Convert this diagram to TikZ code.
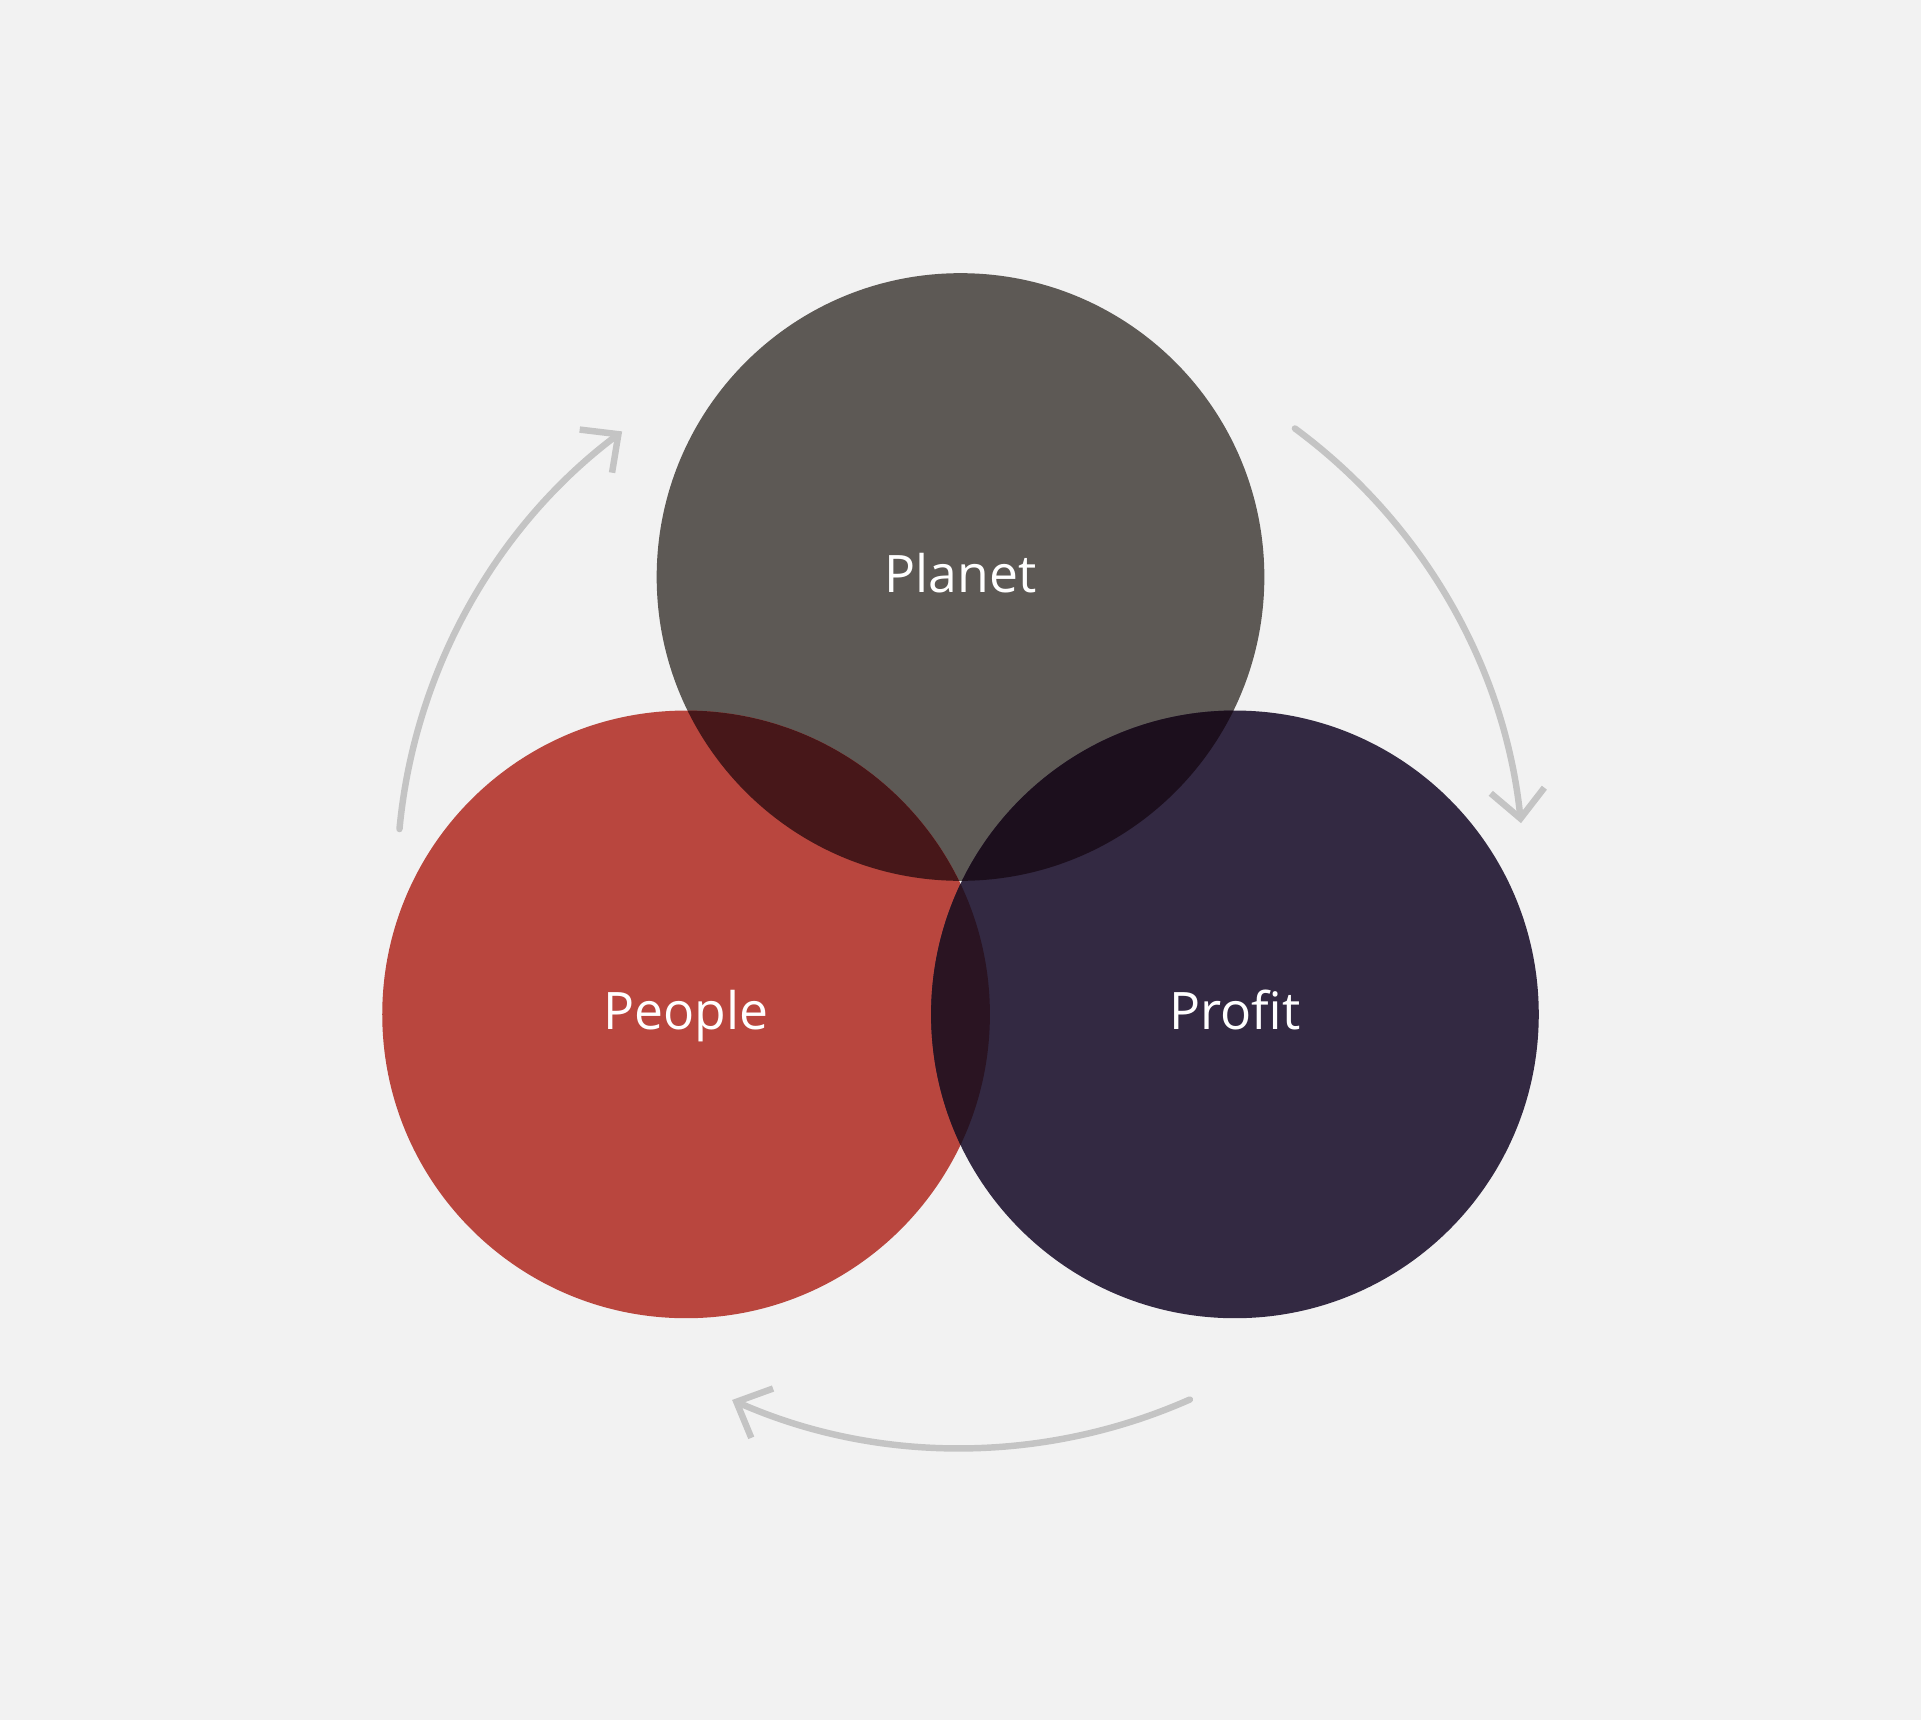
\documentclass[tikz,border=0pt]{standalone}
\usepackage{fontspec}
\setmainfont{Open Sans}
\usetikzlibrary{arrows.meta}

\definecolor{bgcol}{HTML}{F2F2F2}
\definecolor{planetcol}{HTML}{5D5955}
\definecolor{peoplecol}{HTML}{B9463E}
\definecolor{profitcol}{HTML}{332942}
\definecolor{planetpeople}{HTML}{471719}
\definecolor{planetprofit}{HTML}{1C0F1D}
\definecolor{peopleprofit}{HTML}{2A1422}
\definecolor{arrowcol}{HTML}{C4C4C4}

\begin{document}
\begin{tikzpicture}[venn/.style={circle, minimum size = 4.96cm, inner sep = 0pt, text=white, text depth = 0.07cm, font=\fontsize{12}{14}\selectfont},
    cyclearrow/.style={draw=arrowcol, line width = 1.5pt, line cap = round, -{Straight Barb[length=0.23cm, width=0.44cm, line cap=butt]}}]
    \fill[bgcol] (0, 0) rectangle (15.68, 14.04);

    \node at (7.84, 9.33) [venn, fill=planetcol] (planet) {Planet};
    \node at (5.60, 5.76) [venn, fill=peoplecol] (people) {People};
    \node at (10.08, 5.76) [venn, fill=profitcol] (profit) {Profit};
    \coordinate (hub) at (7.84, 6.84);

    %Overlaps of the circles
    \begin{scope}
        \clip (planet.center) circle (2.48);
        \fill[planetpeople] (people.center) circle (2.48);
        \fill[planetprofit] (profit.center) circle (2.48);
    \end{scope}
    \begin{scope}
        \clip (people.center) circle (2.48);
        \fill[peopleprofit] (profit.center) circle (2.48);
    \end{scope}

    %Cycle arrows round the hub
    \draw [cyclearrow] ([shift={(174.6:4.6)}]hub) arc [start angle=174.6, end angle=126.9, radius=4.6];
    \draw [cyclearrow] ([shift={(53.6:4.6)}]hub) arc [start angle=53.6, end angle=6.0, radius=4.6];
    \draw [cyclearrow] ([shift={(-66.1:4.62)}]hub) arc [start angle=-66.1, end angle=-113.8, radius=4.62];
\end{tikzpicture}
\end{document}
